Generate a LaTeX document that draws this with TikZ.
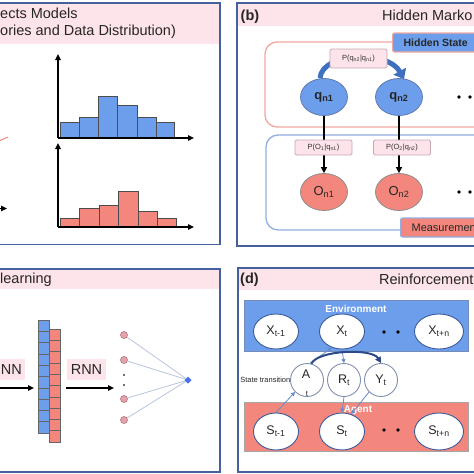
\documentclass[tikz,border=0pt]{standalone}
\usepackage{fontspec}
\setmainfont{Liberation Sans}
\usetikzlibrary{arrows.meta,shapes.geometric}
\definecolor{pborder}{HTML}{44619E}
\definecolor{bandpink}{HTML}{FDE3EA}
\definecolor{bfill}{HTML}{6D9EEB}
\definecolor{rfill}{HTML}{F4877D}
\definecolor{salmonb}{HTML}{F2A89F}
\definecolor{lblue}{HTML}{93AEE0}
\definecolor{darkb}{HTML}{3A5A9A}
\definecolor{arcb}{HTML}{3F6FBF}
\definecolor{navy}{HTML}{2E4A86}
\definecolor{mauve}{HTML}{E2A3AC}
\definecolor{mauveb}{HTML}{B8707C}
\definecolor{thinl}{HTML}{B9C5DD}
\definecolor{plabb}{HTML}{C9A9B6}
\definecolor{cgray}{HTML}{8090AA}
\tikzset{
  panel/.style={draw=pborder, line width=1.8pt},
  band/.style={fill=bandpink},
  ttl/.style={font=\fontsize{14.5}{16}\selectfont, inner sep=0pt, text=black!85},
  bbar/.style={fill=bfill, draw=black!70, line width=0.9pt},
  rbar/.style={fill=rfill, draw=black!70, line width=0.9pt},
  axis/.style={line width=1.7pt, -{Triangle[length=6pt,width=5.5pt]}},
  qn/.style={ellipse, fill=bfill, draw=darkb!80, line width=0.8pt, minimum width=47pt, minimum height=37pt, inner sep=0pt, font=\fontsize{13}{14}\selectfont\bfseries, text=black!85},
  on/.style={ellipse, fill=rfill, draw=black!45, line width=0.8pt, minimum width=47pt, minimum height=37pt, inner sep=0pt, font=\fontsize{13}{14}\selectfont, text=black!85},
  bdot/.style={circle, fill=black, inner sep=0pt, minimum size=3.8pt},
  plab/.style={fill=bandpink, draw=plabb, line width=0.8pt, rounded corners=1.5pt, inner sep=0pt, font=\fontsize{7.5}{8}\selectfont, text=black!80},
  varrow/.style={line width=1.8pt, -{Triangle[length=6pt,width=6pt]}},
  bigarrow/.style={draw=arcb, line width=5pt, -{Triangle[length=9pt,width=14pt]}},
  rnnlab/.style={fill=bandpink, inner sep=0pt, minimum height=21pt, font=\fontsize{14.5}{16}\selectfont, text=black!85},
  carrow/.style={line width=1.6pt, -{Triangle[length=6pt,width=5.5pt]}},
  bcell/.style={fill=bfill, draw=black!60, line width=0.6pt},
  rcell/.style={fill=rfill, draw=black!60, line width=0.6pt},
  pcirc/.style={circle, fill=mauve, draw=mauveb, line width=0.6pt, minimum size=7pt, inner sep=0pt},
  sdot/.style={circle, fill=black!75, inner sep=0pt, minimum size=2.4pt},
  thin/.style={draw=thinl, line width=0.8pt},
  xn/.style={ellipse, fill=white, draw=darkb, line width=0.9pt, minimum height=35pt, inner sep=0pt, font=\fontsize{12.5}{13}\selectfont, text=black!85},
  mc/.style={circle, fill=white, draw=cgray, line width=0.9pt, minimum size=33pt, inner sep=0pt, font=\fontsize{12.5}{13}\selectfont, text=black!85},
  tarrow/.style={draw=arcb!80, line width=0.8pt, -{Triangle[length=4pt,width=4pt]}},
  carc/.style={draw=navy, line width=2pt, -{Triangle[length=6pt,width=6pt]}},
  wlab/.style={text=white, font=\fontsize{10}{11}\selectfont\bfseries, inner sep=0pt}
}
\begin{document}
\begin{tikzpicture}[x=1pt,y=-1pt]
\useasboundingbox (0,0) rectangle (474,474);
\fill[white] (0,0) rectangle (474,474);
\clip (0,0) rectangle (474,474);

% ---------------- panel (a)
\fill[band] (-5,4) rectangle (219,44);
\draw[panel] (-5,3.2) rectangle (219.8,244.5);
\node[ttl, anchor=base west] (ta1) at (0,18.5) {ects Models};
\node[ttl, anchor=base west] (ta2) at (0,35.5) {ories and Data Distribution)};
\foreach \a/\b/\t in {60/79/122, 79/98/117, 98/117/96, 117/137/105, 137/156/117, 156/174/122}
  \draw[bbar] (\a,138) rectangle (\b,\t);
\foreach \a/\b/\t in {60/79/218, 79/99/208, 99/118/205, 118/138/191, 138/157/211, 157/176/218}
  \draw[rbar] (\a,227) rectangle (\b,\t);
\coordinate (o1) at (58,138);
\coordinate (o1y) at (58,54);
\coordinate (o1x) at (194,138);
\coordinate (o2) at (58,227);
\coordinate (o2y) at (58,143);
\coordinate (o2x) at (194,227);
\draw[axis] (o1) -- (o1y);
\draw[axis] (o1) -- (o1x);
\draw[axis] (o2) -- (o2y);
\draw[axis] (o2) -- (o2x);
\draw[rfill, line width=1pt] (0,140.5) -- (8,137);
\coordinate (la) at (-4,208.5);
\coordinate (lb) at (7,208.5);
\draw[carrow] (la) -- (lb);

% ---------------- panel (b)
\fill[band] (237,4) rectangle (480,25.5);
\draw[panel] (237,3) rectangle (480,246);
\node[font=\fontsize{14.5}{16}\selectfont\bfseries, inner sep=0pt, anchor=base west, text=black!85] (tb) at (240.5,20) {(b)};
\node[ttl, anchor=base west] (tb2) at (382,20) {Hidden Marko};
\draw[salmonb, line width=1.3pt, rounded corners=12pt] (265,42) rectangle (500,127);
\draw[lblue, line width=1.3pt, rounded corners=12pt] (266,135) rectangle (500,230);
\node[fill=bfill, draw=salmonb, line width=1.2pt, anchor=west, minimum height=19pt, inner xsep=11pt, rounded corners=2pt, font=\fontsize{10.5}{11}\selectfont\bfseries, text=black!85] (hs) at (392,42.5) {Hidden State~~~};
\node[fill=rfill, draw=lblue, line width=1.2pt, anchor=west, minimum height=19pt, inner xsep=11pt, rounded corners=2pt, font=\fontsize{11}{12}\selectfont, text=black!85] (ms) at (400,227.5) {Measurement};
\node[qn] (q1) at (324,97) {q\textsubscript{n1}};
\node[qn] (q2) at (399,97) {q\textsubscript{n2}};
\node[on] (n1) at (324,192) {O\textsubscript{n1}};
\node[on] (n2) at (399,192) {O\textsubscript{n2}};
\node[bdot] (d1) at (459,97) {};
\node[bdot] (d2) at (470,97) {};
\node[bdot] (d3) at (459,192) {};
\node[bdot] (d4) at (470,192) {};
\draw[bigarrow] ([xshift=-4pt]q1.north) .. controls (322,52) and (388,50) .. ([xshift=5pt,yshift=-1pt]q2.north);
\node[plab, minimum width=57pt, minimum height=19pt] (pq) at (358.5,58.5) {P(q\textsubscript{n2}|q\textsubscript{n1})};
\draw[varrow] (q1) -- (n1);
\draw[varrow] (q2) -- (n2);
\node[plab, minimum width=57pt, minimum height=15pt] (p1) at (323.5,147.5) {P(O\textsubscript{1}|q\textsubscript{n1})};
\node[plab, minimum width=57pt, minimum height=15pt] (p2) at (402,147.5) {P(O\textsubscript{2}|q\textsubscript{n2})};

% ---------------- panel (c)
\fill[band] (-5,270) rectangle (219.5,289);
\draw[panel] (-5,269) rectangle (220,472);
\node[ttl, anchor=base west] (tc) at (0,283) {learning};
\node[rnnlab, minimum width=27pt, anchor=east, inner xsep=3pt] (nn) at (25,369.5) {NN};
\node[rnnlab, minimum width=39pt] (rnn) at (86.5,369.5) {RNN};
\coordinate (c1s) at (-4,388);
\coordinate (c1e) at (34,388);
\coordinate (c2s) at (66,388);
\coordinate (c2e) at (114,388);
\draw[carrow] (c1s) -- (c1e);
\draw[carrow] (c2s) -- (c2e);
\foreach \i in {0,...,9}
  \draw[bcell] (38,{320+11.3*\i}) rectangle (49,{331.3+11.3*\i});
\foreach \i in {0,...,9}
  \draw[rcell] (49,{329+11.3*\i}) rectangle (60,{340.3+11.3*\i});
\node[inner sep=0pt, minimum size=0pt] (tg) at (188,380) {};
\foreach \n/\y in {c1/335, c2/360, c3/399, c4/420} {
  \node[pcirc] (\n) at (124,\y) {};
  \draw[thin] (\n) -- (tg);
}
\node[sdot] (s1) at (124,375) {};
\node[sdot] (s2) at (124,385) {};
\fill[bfill!70!blue] (188,376.5) -- (191.5,380) -- (188,383.5) -- (184.5,380) -- cycle;

% ---------------- panel (d)
\fill[band] (238,269) rectangle (480,290);
\draw[panel] (238,268) rectangle (480,472);
\node[font=\fontsize{14.5}{16}\selectfont\bfseries, inner sep=0pt, anchor=base west, text=black!85] (td) at (240,283.5) {(d)};
\node[ttl, anchor=base west] (td2) at (379,284.5) {Reinforcement};
\node[fill=bfill, draw=darkb!70, line width=1pt, minimum width=224pt, minimum height=51pt, inner sep=0pt] (env) at (356,325.5) {};
\node[fill=rfill, draw=black!35, line width=1pt, minimum width=224pt, minimum height=49pt, inner sep=0pt] (agt) at (356,426.5) {};
\node[wlab] (envt) at (356,308.5) {Environment};
\node[wlab] (agtt) at (358,410.5) {Agent};
\node[xn, minimum width=45pt] (x1) at (276,331.5) {X\textsubscript{t-1}};
\node[xn, minimum width=45pt] (x2) at (342,331.5) {X\textsubscript{t}};
\node[xn, minimum width=49pt] (x3) at (439,331.5) {X\textsubscript{t+n}};
\node[xn, minimum width=45pt, minimum height=37pt] (st1) at (276,431.5) {S\textsubscript{t-1}};
\node[xn, minimum width=45pt, minimum height=37pt] (st2) at (342,431.5) {S\textsubscript{t}};
\node[xn, minimum width=49pt, minimum height=37pt] (st3) at (439,431.5) {S\textsubscript{t+n}};
\node[bdot] (e1) at (384,332) {};
\node[bdot] (e2) at (398,332) {};
\node[bdot] (e3) at (384,430) {};
\node[bdot] (e4) at (398,430) {};
\node[mc] (A) at (307,380) {};
\node[mc] (R) at (344,380) {R\textsubscript{t}};
\node[mc] (Y) at (381,380) {Y\textsubscript{t}};
\node[inner sep=0pt, font=\fontsize{12.5}{13}\selectfont, text=black!85] (At) at (306,374) {A};
\node[inner sep=0pt, font=\fontsize{8}{9}\selectfont, text=black!85] (At2) at (307,394) {t};
\node[inner sep=0pt, anchor=east, font=\fontsize{7.5}{8}\selectfont, text=black!85] (stl) at (290.5,379.5) {State transition};
\draw[tarrow] (st1.north) -- (A.225);
\draw[tarrow] (A.80) -- (x2.238);
\draw[tarrow] (x2.south) -- (R.north);
\draw[tarrow] (R.south) -- (st2.north);
\draw[tarrow] (Y.225) -- (st2.62);
\draw[carc] (A.75) .. controls (318,350) and (372,348) .. (Y.north);
\end{tikzpicture}
\end{document}
